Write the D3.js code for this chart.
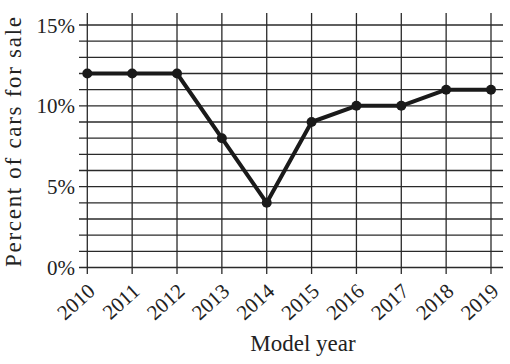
<!DOCTYPE html>
<html>
<head>
<meta charset="utf-8">
<script src="https://cdn.jsdelivr.net/npm/d3@7"></script>
<style>
  body { margin: 0; background: #fff; }
</style>
</head>
<body>
<div id="chart"></div>
<script>
// data
var years = [2010, 2011, 2012, 2013, 2014, 2015, 2016, 2017, 2018, 2019];
var percents = [12, 12, 12, 8, 4, 9, 10, 10, 11, 11];
var yTicks = [0, 5, 10, 15];

var width = 510, height = 364;
var svg = d3.select("#chart").append("svg")
    .attr("width", width)
    .attr("height", height)
    .attr("font-family", "'Liberation Serif', 'Times New Roman', serif");

//坐标
var x = d3.scaleLinear().domain([2010, 2019]).range([87.3, 491]);
var y = d3.scaleLinear().domain([0, 15]).range([267.5, 25]);

var grid = svg.append("g");
// horizontal lines every 1%
grid.selectAll("line.h")
    .data(d3.range(0, 16))
    .enter().append("line")
    .attr("x1", 79).attr("x2", 503)
    .attr("y1", d => y(d)).attr("y2", d => y(d))
    .attr("stroke", "#2a2a2a")
    .attr("stroke-width", 1.3);
// vertical lines each year
grid.selectAll("line.v")
    .data(years)
    .enter().append("line")
    .attr("x1", d => x(d)).attr("x2", d => x(d))
    .attr("y1", 13).attr("y2", 274)
    .attr("stroke", "#2a2a2a")
    .attr("stroke-width", 1.3);

// y tick labels
svg.selectAll("text.yl")
    .data(yTicks)
    .enter().append("text")
    .attr("x", 75)
    .attr("y", d => y(d) + 7.5)
    .attr("text-anchor", "end")
    .attr("fill", "#222")
    .style("font-size", "21px")
    .text(d => d + "%");

// x tick labels
svg.selectAll("text.xl")
    .data(years)
    .enter().append("text")
    .attr("transform", d => "translate(" + (x(d) + 9) + ",293) rotate(-42)")
    .attr("text-anchor", "end")
    .attr("fill", "#222")
    .style("font-size", "21px")
    .text(d => d);

// axis titles
svg.append("text")
    .attr("transform", "translate(20.5,142) rotate(-90)")
    .attr("text-anchor", "middle")
    .attr("fill", "#222")
    .attr("textLength", 250)
    .attr("lengthAdjust", "spacing")
    .style("font-size", "23px")
    .text("Percent of cars for sale");
svg.append("text")
    .attr("x", 303).attr("y", 351)
    .attr("text-anchor", "middle")
    .attr("fill", "#222")
    .style("font-size", "23px")
    .text("Model year");

// line + points
var line = d3.line().x((d, i) => x(years[i])).y(d => y(d));
svg.append("path")
    .datum(percents)
    .attr("d", line)
    .attr("fill", "none")
    .attr("stroke", "#1a1a1a")
    .attr("stroke-width", 4)
    .attr("stroke-linejoin", "round");
svg.selectAll("circle")
    .data(percents)
    .enter().append("circle")
    .attr("cx", (d, i) => x(years[i]))
    .attr("cy", d => y(d))
    .attr("r", 5)
    .attr("fill", "#1a1a1a");
</script>
</body>
</html>
